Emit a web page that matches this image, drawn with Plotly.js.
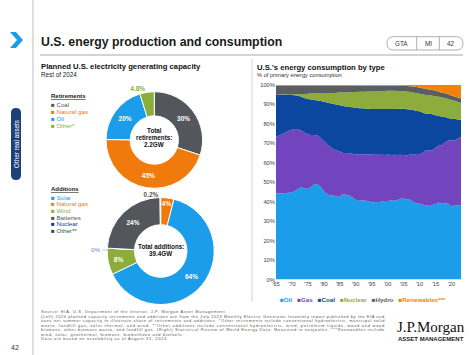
<!DOCTYPE html>
<html><head><meta charset="utf-8">
<script src="https://cdn.plot.ly/plotly-3.0.1.min.js"></script>
<style>html,body{margin:0;padding:0;background:#fff;}#chart{width:474px;height:355px;}</style>
</head><body><div id="chart"></div>
<script>
// ---------- DATA ----------
const years = [1965,1966,1967,1968,1969,1970,1971,1972,1973,1974,1975,1976,1977,1978,1979,1980,1981,1982,1983,1984,1985,1986,1987,1988,1989,1990,1991,1992,1993,1994,1995,1996,1997,1998,1999,2000,2001,2002,2003,2004,2005,2006,2007,2008,2009,2010,2011,2012,2013,2014,2015,2016,2017,2018,2019,2020,2021,2022,2023];
const oilShare = [44.3,44.3,44.2,44.5,44.6,44.8,45.5,46.8,47.4,46.6,46.6,47.5,49.0,49.1,47.6,45.5,43.8,43.3,43.2,42.6,42.5,44.0,43.6,43.2,42.2,41.0,40.5,40.7,40.5,40.3,39.6,39.7,39.8,40.0,40.3,40.3,40.6,40.5,40.9,41.5,41.7,41.2,41.0,39.8,39.2,39.0,38.4,38.2,38.3,38.3,38.8,39.4,39.3,39.2,39.0,37.4,38.3,38.2,38.3];
const gasShare = [29.1,29.7,30.6,31.1,31.9,32.2,31.9,30.4,29.1,28.9,27.9,26.8,25.3,24.9,25.2,25.7,25.8,24.9,23.8,23.8,23.3,21.1,21.4,21.6,22.4,23.3,23.8,23.7,23.8,24.1,24.7,24.5,24.4,24.1,23.7,24.0,23.4,23.7,23.1,22.6,22.3,22.6,23.3,24.4,25.3,25.5,26.6,28.3,28.0,28.2,29.0,29.4,29.9,31.3,32.5,34.1,33.2,34.3,35.0];
const coalShare = [21.8,21.1,20.2,19.4,18.3,17.8,17.3,17.3,17.5,17.7,18.3,18.3,18.0,18.0,19.0,20.2,21.4,22.4,23.2,23.6,23.8,24.1,23.9,23.9,23.9,24.0,23.8,23.6,23.6,23.4,23.4,23.5,23.5,23.6,23.6,23.4,23.6,23.5,23.8,23.7,23.8,23.7,23.1,23.0,22.1,22.0,20.8,18.7,19.1,18.5,16.6,15.2,14.6,13.1,11.5,11.0,11.1,9.8,8.7];
const nuclearShare = [0.1,0.1,0.1,0.2,0.2,0.3,0.6,0.9,1.3,2.0,2.7,3.0,3.4,3.8,3.8,4.2,4.7,5.2,5.6,6.0,6.6,6.9,7.3,7.6,7.8,8.1,8.4,8.5,8.6,8.8,9.0,9.0,9.0,9.1,9.3,9.3,9.4,9.3,9.1,9.1,9.0,9.1,9.0,8.9,9.2,9.0,9.4,9.7,9.4,9.5,9.8,9.9,9.8,9.7,9.8,9.8,9.3,9.0,8.8];
const hydroShare = [4.5,4.6,4.7,4.6,4.8,4.7,4.5,4.4,4.5,4.6,4.3,4.2,4.1,4.0,4.2,4.2,4.1,4.0,4.0,3.8,3.6,3.7,3.6,3.5,3.5,3.2,3.1,3.1,3.1,3.0,2.9,2.9,2.9,2.8,2.7,2.6,2.6,2.6,2.7,2.7,2.8,2.9,3.0,3.1,3.2,3.2,3.1,3.1,2.9,2.9,2.8,2.6,2.4,2.4,2.4,2.2,2.2,2.3,2.2];
const renewShare = [0.2,0.2,0.2,0.2,0.2,0.2,0.2,0.2,0.2,0.2,0.2,0.2,0.2,0.2,0.2,0.2,0.2,0.2,0.2,0.2,0.2,0.2,0.2,0.2,0.2,0.4,0.4,0.4,0.4,0.4,0.4,0.4,0.4,0.4,0.4,0.4,0.4,0.4,0.4,0.4,0.4,0.5,0.6,0.8,1.0,1.3,1.7,2.0,2.3,2.6,3.0,3.5,4.0,4.3,4.8,5.5,5.9,6.4,7.0];
const energyNames = ['Oil','Gas','Coal','Nuclear','Hydro','Renewables***'];
const xTickVals = [1965,1970,1975,1980,1985,1990,1995,2000,2005,2010,2015,2020];
const xTickText = ["'65","'70","'75","'80","'85","'90","'95","'00","'05","'10","'15","'20"];
const yTickVals = [0,10,20,30,40,50,60,70,80,90,100];
const yTickText = ['0%','10%','20%','30%','40%','50%','60%','70%','80%','90%','100%'];

const retireLabels = ['Coal','Natural gas','Oil','Other*'];
const retireValues = [30,45,20,4.8];
const retireTotal = '2.2GW';

// pie order (clockwise from 12 o'clock)
const addLabels = ['Natural gas','Solar','Wind','Nuclear','Batteries','Other**'];
const addValues = [4,64,8,0,24,0.2];
const addTotal = '39.4GW';
const addLegendOrder = ['Solar','Natural gas','Wind','Batteries','Nuclear','Other**'];

const footnotes = [
 'Source: EIA, U.S. Department of the Interior, J.P. Morgan Asset Management.',
 '(Left) 2024 planned capacity retirements and additions are from the July 2024 Monthly Electric Generator Inventory report published by the EIA and',
 'uses net summer capacity to illustrate share of retirements and additions. *Other retirements include conventional hydroelectric, municipal solid',
 'waste, landfill gas, solar thermal, and wind. **Other additions include conventional hydroelectric, wind, petroleum liquids, wood and wood',
 'biomass, other biomass waste, and landfill gas. (Right) Statistical Review of World Energy Data. Measured in exajoules. ***Renewables include',
 'wind, solar, geothermal, biomass, biomethane and biofuels.',
 'Data are based on availability as of August 31, 2024.'
];
const footJustified = [false,true,true,true,true,false,false];

// ---------- STYLE ----------
const C = {
  oil:'#1B9DEA', gas:'#7244BD', coal:'#0B479E', nuclear:'#8CAD3B', hydro:'#5A5D61', renew:'#F2820C',
  gray:'#53575B', orange:'#F07A0C', green:'#8CAD3B', darkblue:'#0C3C8C', darkgreen:'#1C5B3A'
};
const energyColors = [C.oil,C.gas,C.coal,C.nuclear,C.hydro,C.renew];
const retireColors = {'Coal':C.gray,'Natural gas':C.orange,'Oil':C.oil,'Other*':C.green};
const addColors = {'Natural gas':C.orange,'Solar':C.oil,'Wind':C.green,'Nuclear':C.darkblue,'Batteries':C.gray,'Other**':C.darkgreen};
const FONT = 'Liberation Sans, Arial, sans-serif';
const W = 474, H = 355;
const px = x => x / W;
const py = y => 1 - y / H;

// ---------- TRACES ----------
const series = [oilShare,gasShare,coalShare,nuclearShare,hydroShare,renewShare];
const traces = series.map((s,i) => ({
  type:'scatter', x:years, y:s, name:energyNames[i], stackgroup:'one', mode:'none',
  fillcolor:energyColors[i], line:{width:0}, hoverinfo:'skip', xaxis:'x', yaxis:'y'
}));

traces.push({
  type:'pie', labels:retireLabels, values:retireValues, sort:false, direction:'clockwise', rotation:0,
  hole:0.5, domain:{x:[px(106),px(202.6)], y:[py(188.3),py(91.7)]},
  marker:{colors:retireLabels.map(l=>retireColors[l]), line:{color:'#fff',width:1}},
  texttemplate:'%{value}%', textinfo:'text',
  textposition:['inside','inside','inside','outside'],
  insidetextorientation:'horizontal',
  textfont:{family:FONT,size:6.5,weight:'bold',color:['#fff','#fff','#fff',C.green]},
  hoverinfo:'skip', showlegend:false
});
traces.push({
  type:'pie', labels:addLabels, values:addValues, sort:false, direction:'clockwise', rotation:0,
  hole:0.49, domain:{x:[px(107.2),px(214.2)], y:[py(304.5),py(197.5)]},
  marker:{colors:addLabels.map(l=>addColors[l]), line:{color:'#fff',width:1}},
  texttemplate:'%{value}%', textinfo:'text',
  textposition:['inside','inside','inside','none','inside','outside'],
  insidetextorientation:'horizontal',
  textfont:{family:FONT,size:6.5,weight:'bold',color:['#fff','#fff','#fff','#fff','#fff','#555']},
  hoverinfo:'skip', showlegend:false
});

// ---------- ANNOTATIONS ----------
const ann = [];
function txt(x,y,text,opt={}) {
  ann.push(Object.assign({xref:'paper',yref:'paper',x:px(x),y:py(y),text:text,showarrow:false,
    xanchor:'left',yanchor:'middle',borderpad:0,font:{family:FONT,size:7,color:'#222'}},opt));
}
txt(40,42,'<b>U.S. energy production and consumption</b>',{font:{family:FONT,size:12.3,color:'#1a1a1a'}});
txt(401.8,43.4,'GTA',{xanchor:'center',font:{family:FONT,size:6.3,color:'#333'}});
txt(428,43.4,'MI',{xanchor:'center',font:{family:FONT,size:6.3,color:'#333'}});
txt(451,43.4,'42',{xanchor:'center',font:{family:FONT,size:6.3,color:'#333'}});
txt(16,144,'Other real assets',{xanchor:'center',textangle:-90,font:{family:FONT,size:6.3,color:'#fff'}});

txt(40,66.5,'<b>Planned U.S. electricity generating capacity</b>',{font:{family:FONT,size:7.7,color:'#111'}});
txt(40,74.3,'Rest of 2024',{font:{family:FONT,size:6.3,color:'#222'}});
txt(256,67.5,'<b>U.S.\'s energy consumption by type</b>',{font:{family:FONT,size:7.7,color:'#111'}});
txt(256,75.5,'% of primary energy consumption',{font:{family:FONT,size:5.7,color:'#333'}});

// retirement legend
txt(50,95.8,'<b><u>Retirements</u></b>',{font:{family:FONT,size:6,color:'#222'}});
retireLabels.forEach((l,i)=>{
  txt(50,104.3+i*7.1,'■ '+l,{font:{family:FONT,size:6.2,color:retireColors[l]}});
});
// additions legend
txt(50,189.5,'<b><u>Additions</u></b>',{font:{family:FONT,size:6,color:'#222'}});
addLegendOrder.forEach((l,i)=>{
  txt(50,197.3+i*6.65,'■ '+l,{font:{family:FONT,size:6.2,color:addColors[l]}});
});
// donut centre texts
txt(154.3,131,'<b>Total</b>',{xanchor:'center',font:{family:FONT,size:6.3,color:'#111'}});
txt(154.3,137.7,'<b>retirements:</b>',{xanchor:'center',font:{family:FONT,size:6.3,color:'#111'}});
txt(154.3,144.4,'<b>'+retireTotal+'</b>',{xanchor:'center',font:{family:FONT,size:6.3,color:'#111'}});
txt(160.7,246.7,'<b>Total additions:</b>',{xanchor:'center',font:{family:FONT,size:6.3,color:'#111'}});
txt(160.7,253.4,'<b>'+addTotal+'</b>',{xanchor:'center',font:{family:FONT,size:6.3,color:'#111'}});
// zero-value slice label (Nuclear)
txt(101,250,addValues[addLabels.indexOf('Nuclear')]+'%',{xanchor:'right',font:{family:FONT,size:6.2,color:'#6F86C6'}});

// area chart legend
const legendHtml = energyNames.map((n,i)=>'<span style="color:'+energyColors[i]+'">■'+n+'</span>').join('   ');
txt(279,299,'<b>'+legendHtml+'</b>',{font:{family:FONT,size:6.2,color:'#333'}});

// footnotes: tiny text, letter-spaced so the justified lines reach the right edge
const FOOT_SIZE = 4.0, FOOT_W = 344;
const ctx = document.createElement('canvas').getContext('2d');
ctx.font = FOOT_SIZE + 'px "Liberation Sans"';
const spacings = footnotes.map(f => (FOOT_W - ctx.measureText(f).width) / f.length);
const jSp = spacings.filter((s,i)=>footJustified[i]);
const avgSp = jSp.reduce((a,b)=>a+b,0) / jSp.length;
footnotes.forEach((f,i)=>{
  const ls = footJustified[i] ? spacings[i] : avgSp;
  txt(40,311.5+i*4.5,'<span style="letter-spacing:'+ls.toFixed(3)+'px">'+f+'</span>',
      {font:{family:FONT,size:FOOT_SIZE,color:'#555'}});
});
txt(15,347,'42',{xanchor:'center',font:{family:FONT,size:7,color:'#333'}});
txt(431,326.5,'J.P.Morgan',{xanchor:'center',font:{family:'Liberation Serif, Times New Roman, serif',size:15,color:'#111'}});
txt(431,338.6,'<b>ASSET MANAGEMENT</b>',{xanchor:'center',font:{family:FONT,size:6,color:'#222'}});

// ---------- SHAPES ----------
function P(x,y){return px(x).toFixed(5)+','+py(y).toFixed(5);}
function rrect(x0,y0,x1,y1,r){
  return 'M'+P(x0+r,y0)+' L'+P(x1-r,y0)+' Q'+P(x1,y0)+' '+P(x1,y0+r)+' L'+P(x1,y1-r)+' Q'+P(x1,y1)+' '+P(x1-r,y1)+
         ' L'+P(x0+r,y1)+' Q'+P(x0,y1)+' '+P(x0,y1-r)+' L'+P(x0,y0+r)+' Q'+P(x0,y0)+' '+P(x0+r,y0)+' Z';
}
const shapes = [
  {type:'line',xref:'paper',yref:'paper',x0:px(33),x1:px(33),y0:0,y1:1,line:{color:'#d3d3d3',width:1.5}},
  {type:'line',xref:'paper',yref:'paper',x0:px(40),x1:px(463),y0:py(55),y1:py(55),line:{color:'#d3d3d3',width:2}},
  {type:'line',xref:'paper',yref:'paper',x0:px(252),x1:px(252),y0:py(59),y1:py(302),line:{color:'#d3d3d3',width:1}},
  {type:'path',xref:'paper',yref:'paper',path:'M'+P(10,32)+' L'+P(16,32)+' L'+P(23,40)+' L'+P(16,48)+' L'+P(10,48)+' L'+P(17,40)+' Z',
    fillcolor:C.oil,line:{width:0}},
  {type:'path',xref:'paper',yref:'paper',path:rrect(387,36.7,463,50,6.6),fillcolor:'rgba(0,0,0,0)',line:{color:'#9a9a9a',width:0.8}},
  {type:'line',xref:'paper',yref:'paper',x0:px(416.7),x1:px(416.7),y0:py(36.7),y1:py(50),line:{color:'#9a9a9a',width:0.8}},
  {type:'line',xref:'paper',yref:'paper',x0:px(439.3),x1:px(439.3),y0:py(36.7),y1:py(50),line:{color:'#9a9a9a',width:0.8}},
  {type:'path',xref:'paper',yref:'paper',path:rrect(11,108,21,180,5),fillcolor:'#1F3F7A',line:{width:0}},
  {type:'line',xref:'paper',yref:'paper',x0:px(102),x1:px(108),y0:py(250),y1:py(250),line:{color:'#9aa8d0',width:0.6}}
];

const layout = {
  width:W, height:H, margin:{l:0,r:0,t:0,b:0}, paper_bgcolor:'#fff', plot_bgcolor:'#fff',
  showlegend:false, font:{family:FONT},
  xaxis:{domain:[px(276),px(461)], range:[1965,2023], tickmode:'array', tickvals:xTickVals, ticktext:xTickText,
    showgrid:false, zeroline:false, showline:false, ticks:'', tickfont:{family:FONT,size:5.8,color:'#444'}, fixedrange:true},
  yaxis:{domain:[py(279.5),py(85)], range:[0,100], tickmode:'array', tickvals:yTickVals, ticktext:yTickText,
    showgrid:false, zeroline:false, showline:false, ticks:'', tickfont:{family:FONT,size:5.8,color:'#444'}, fixedrange:true},
  annotations:ann, shapes:shapes
};
Plotly.newPlot('chart', traces, layout, {staticPlot:true, displayModeBar:false});
</script>
</body></html>
